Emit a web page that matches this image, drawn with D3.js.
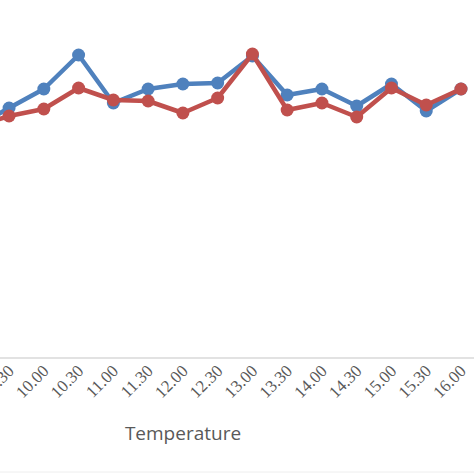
<!DOCTYPE html>
<html><head><meta charset="utf-8">
<script src="https://cdn.jsdelivr.net/npm/d3@7"></script>
<style>body{margin:0;background:#fff}svg{display:block}</style>
</head><body>
<script>
const times = ["9.00","9.30","10.00","10.30","11.00","11.30","12.00","12.30","13.00","13.30","14.00","14.30","15.00","15.30","16.00"]
const seriesA = [23.2, 25.2, 27.1, 30.5, 25.7, 27.1, 27.6, 27.7, 30.4, 26.5, 27.1, 25.4, 27.6, 24.9, 27.1]
const seriesB = [23.3, 24.4, 25.1, 27.2, 26.0, 25.9, 24.7, 26.2, 30.6, 25.0, 25.7, 24.3, 27.2, 25.5, 27.1]

const w = 474, h = 474
const svg = d3.select("body").append("svg").attr("width", w).attr("height", h)

const x = d3.scalePoint().domain(times).range([-25.7, 461])
const y = d3.scaleLinear().domain([0, 36]).range([360, 0])

svg.append("line").attr("x1", 0).attr("x2", w).attr("y1", 358).attr("y2", 358)
  .attr("stroke", "#d9d9d9").attr("stroke-width", 1.5)
svg.append("line").attr("x1", 0).attr("x2", w).attr("y1", 472).attr("y2", 472)
  .attr("stroke", "#eeeeee").attr("stroke-width", 1)

times.forEach(t => {
  svg.append("text")
    .attr("transform", "translate(" + (x(t) + 6) + ",372) rotate(-45)")
    .attr("text-anchor", "end")
    .attr("font-family", "Liberation Serif")
    .attr("font-size", 17)
    .attr("fill", "#595959")
    .text(t)
})

svg.append("text").attr("x", 183).attr("y", 440).attr("text-anchor", "middle")
  .attr("font-family", "Open Sans").attr("font-size", 19).attr("fill", "#595959")
  .text("Temperature")

const line = d3.line().x((d, i) => x(times[i])).y(d => y(d))
;[[seriesA, "#4f81bd"], [seriesB, "#c0504d"]].forEach(([s, c]) => {
  svg.append("path").attr("d", line(s)).attr("fill", "none")
    .attr("stroke", c).attr("stroke-width", 4.5).attr("stroke-linejoin", "round")
  svg.selectAll(null).data(s).enter().append("circle")
    .attr("cx", (d, i) => x(times[i])).attr("cy", d => y(d)).attr("r", 6.5).attr("fill", c)
})
</script>
</body></html>
